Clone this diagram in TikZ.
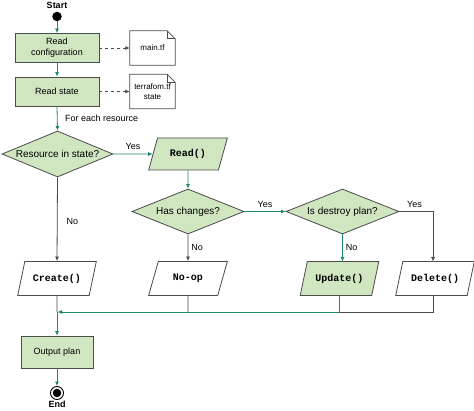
\documentclass[tikz,border=0pt]{standalone}
\usepackage{fontspec}
\setmainfont{Liberation Sans}
\setmonofont{Liberation Mono}
\usetikzlibrary{shapes.geometric,arrows.meta,calc}
\definecolor{tealc}{RGB}{30,135,110}
\definecolor{fillg}{RGB}{208,230,193}
\definecolor{edgec}{RGB}{75,75,75}
\begin{document}
\begin{tikzpicture}[x=1pt,y=-1pt,
  box/.style={draw=edgec, fill=fillg, line width=0.8pt, minimum width=84pt, minimum height=29pt, align=center, font=\fontsize{9}{11}\selectfont, inner sep=1pt},
  dec/.style={diamond, draw=edgec, fill=fillg, line width=0.8pt, minimum width=112pt, minimum height=45pt, inner sep=0pt, aspect=2.4, font=\fontsize{10}{12}\selectfont},
  io/.style={trapezium, trapezium left angle=64, trapezium right angle=116, trapezium stretches=true, draw=edgec, fill=white, line width=0.8pt, minimum width=79pt, minimum height=34pt, inner sep=1pt, font=\ttfamily\bfseries\fontsize{10}{12}\selectfont},
  iog/.style={io, fill=fillg},
  docnode/.style={minimum width=45pt, minimum height=34pt, align=center, inner sep=0pt, font=\fontsize{8}{10.5}\selectfont},
  docline/.style={draw=edgec, line width=0.8pt},
  ta/.style={draw=tealc, line width=0.8pt, -{Latex[length=4.5pt,width=4pt]}},
  tl/.style={draw=tealc, line width=0.8pt},
  ba/.style={draw=edgec, line width=0.8pt, -{Latex[length=4.5pt,width=4pt]}},
  bl/.style={draw=edgec, line width=0.8pt},
  lbl/.style={font=\fontsize{9}{11}\selectfont, inner sep=0pt},
  term/.style={font=\bfseries\fontsize{9}{11}\selectfont, inner sep=0pt}]
\useasboundingbox[fill=white] (0,0) rectangle (474,411);

% start
\node[term] (startlbl) at (57,5) {Start};
\node[circle, fill=black, minimum size=9.5pt, inner sep=0pt] (start) at (57,16.5) {};

% boxes
\node[box] (cfg) at (57,48) {Read\\configuration};
\node[box] (st) at (57,91.5) {Read state};

% documents
\node[docnode] (mt) at (152.5,48) {main.tf};
\node[docnode] (tfs) at (152.5,91.5) {terrafom.tf\\state};
\foreach \d in {mt,tfs}{
  \draw[docline, fill=white] (\d.south west) -- (\d.north west) -- ([xshift=-8pt]\d.north east) -- ([yshift=-8pt]\d.north east) -- (\d.south east) -- cycle;
  \draw[docline] ([xshift=-8pt]\d.north east) -- ([xshift=-8pt,yshift=-8pt]\d.north east) -- ([yshift=-8pt]\d.north east);
}
\node[docnode] at (mt) {main.tf};
\node[docnode] at (tfs) {terrafom.tf\\state};

\draw[ba, dashed] (cfg.east) -- (mt.west);
\draw[ba, dashed] (st.east) -- (tfs.west);

\draw[ta] (start) -- (cfg.north);
\draw[ta] (cfg.south) -- (st.north);

% decisions
\node[dec, minimum width=111pt, minimum height=46pt] (res) at (57.5,154) {Resource in state?};
\node[iog, minimum width=79pt, minimum height=32pt] (rd) at (188,154) {Read()};
\node[dec] (chg) at (188,211.5) {Has changes?};
\node[dec, minimum width=113pt] (dst) at (342.5,211.5) {Is destroy plan?};

\draw[ta] (st.south) -- (res.north);
\node[lbl, anchor=west] (fer) at (65,118) {For each resource};

\draw[ta] (res.east) -- (rd.west) node[lbl, midway, above=4pt] (y1) {Yes};
\draw[ta] (rd.south) -- (chg.north);
\draw[ta] (chg.east) -- (dst.west) node[lbl, midway, above=4pt] (y2) {Yes};

% actions
\node[io] (cr) at (57,278.5) {Create()};
\node[io] (np) at (188,278.5) {No-op};
\node[iog] (up) at (339.5,278.5) {Update()};
\node[io] (dl) at (435,278.5) {Delete()};

\coordinate (dcorner) at (433,211.5);
\draw[bl] (dst.east) -- (dcorner) node[lbl, pos=0.45, above=4pt] (y3) {Yes};
\draw[ba] (dcorner) -- (433,261.5);
\draw[ba] (res.south) -- (cr.north) node[lbl, pos=0.53, right=9pt] (n1) {No};
\draw[ba] (chg.south) -- (np.north) node[lbl, midway, right=3pt] (n2) {No};
\draw[ta] (dst.south) -- (342.5,261.5) node[lbl, midway, right=3pt] (n3) {No};

% merge
\coordinate (j) at (57,312);
\coordinate (jn) at (188,312);
\coordinate (ju) at (339.5,312);
\coordinate (jd) at (433,312);
\draw[bl] (433,295.5) -- (jd) -- (ju);
\draw[bl] (np.south) -- (jn);
\draw[bl] (cr.south) -- (j);
\draw[tl] (up.south) -- (ju);
\draw[ta, shorten >=0.5pt] (ju) -- (j);

% output
\node[box, minimum width=72pt, minimum height=32pt] (out) at (57,352) {Output plan};
\draw[ta] (j) -- (out.north);

% end
\node[circle, draw=black, line width=0.9pt, minimum size=13pt, inner sep=0pt] (endc) at (57,393) {};
\node[circle, fill=black, minimum size=8.5pt, inner sep=0pt] at (endc) {};
\draw[ta] (out.south) -- (endc.north);
\node[term] (endlbl) at (57,404.5) {End};
\end{tikzpicture}
\end{document}
